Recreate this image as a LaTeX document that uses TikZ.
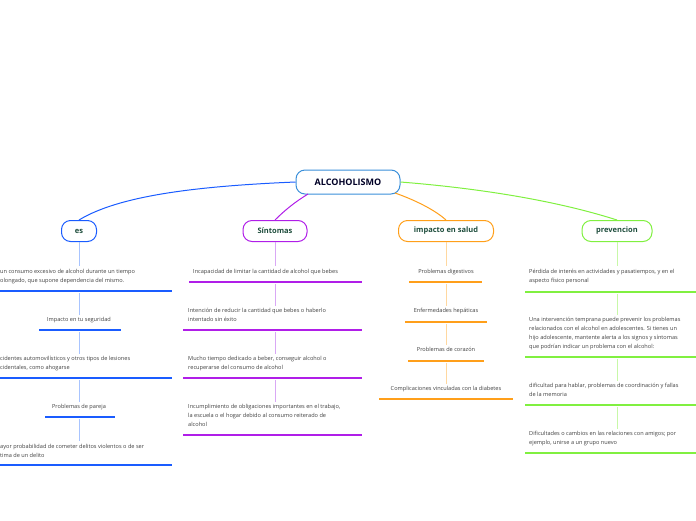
\documentclass[tikz,border=0pt]{standalone}
\usepackage{fontspec}
\setmainfont{Open Sans}
\begin{document}
\begin{tikzpicture}[x=1pt,y=-1pt,
 hdr/.style={draw,rounded corners=9pt,line width=1pt,minimum height=21pt,font=\fontsize{7.5}{9}\selectfont\bfseries,text=hd,inner xsep=8pt},
 lf/.style={font=\fontsize{5.6}{9}\selectfont,text=black!75,inner sep=0pt,align=left,anchor=north west},
 lc/.style={font=\fontsize{5.6}{9}\selectfont,text=black!75,inner sep=0pt,align=center,anchor=north},
 ul/.style={line width=1.2pt},
 vc/.style={line width=1pt}]
\definecolor{hd}{HTML}{1E4D3C}
\definecolor{cb}{HTML}{1A5CFF}\definecolor{cbl}{HTML}{A8C4FF}
\definecolor{cp}{HTML}{B01EE8}\definecolor{cpl}{HTML}{D9A8F5}
\definecolor{co}{HTML}{FF9F1A}\definecolor{col}{HTML}{FFD8A0}
\definecolor{cg}{HTML}{80F040}\definecolor{cgl}{HTML}{C8F8A8}
\definecolor{cr}{HTML}{3A8FD9}
\useasboundingbox (0,0) rectangle (696,520);
\clip (0,0) rectangle (696,520);
\node[hdr,draw=cr,minimum width=104pt,minimum height=24pt,font=\fontsize{9}{10}\selectfont\bfseries,text=black!85!blue] (root) at (348,182) {ALCOHOLISMO};
\node[hdr,draw=cb,minimum width=35pt] (es) at (79,231) {es};
\node[hdr,draw=cp,minimum width=64pt] (si) at (275,231) {Síntomas};
\node[hdr,draw=co,minimum width=95pt] (im) at (446,231) {impacto en salud};
\node[hdr,draw=cg,minimum width=70pt] (pr) at (617,231) {prevencion};
\draw[cb,line width=1pt] (root.west) .. controls (200,186) and (120,195) .. (es.north);
\draw[cp,line width=1pt] (308,194) .. controls (295,202) and (285,210) .. (si.north);
\draw[co,line width=1pt] (395,193) .. controls (415,200) and (435,210) .. (im.north);
\draw[cg,line width=1pt] (root.east) .. controls (500,190) and (570,205) .. (pr.north);
% es column
\node[lf] (e1) at (0,269) {un consumo excesivo de alcohol durante un tiempo\\olongado, que supone dependencia del mismo.};
\node[lc] (e2) at (79,317) {Impacto en tu seguridad};
\node[lf] (e3) at (0,356) {cidentes automovilísticos y otros tipos de lesiones\\cidentales, como ahogarse};
\node[lc] (e4) at (79,404) {Problemas de pareja};
\node[lf] (e5) at (0,444) {ayor probabilidad de cometer delitos violentos o de ser\\tima de un delito};
\draw[cb,ul] (0,291)--(172,291) (39,330)--(121,330) (0,378)--(172,378) (45,417)--(115,417) (0,465)--(172,465);
\draw[cbl,vc] (es.south)--(79,266) (79,293)--(79,315) (79,332)--(79,354) (79,380)--(79,402) (79,419)--(79,441);
% sintomas
\node[lf] (s1) at (193,269) {Incapacidad de limitar la cantidad de alcohol que bebes};
\node[lf] (s2) at (188,308) {Intención de reducir la cantidad que bebes o haberlo\\intentado sin éxito};
\node[lf] (s3) at (188,356) {Mucho tiempo dedicado a beber, conseguir alcohol o\\recuperarse del consumo de alcohol};
\node[lf] (s4) at (188,404) {Incumplimiento de obligaciones importantes en el trabajo,\\la escuela o el hogar debido al consumo reiterado de\\alcohol};
\draw[cp,ul] (189,282)--(362,282) (183,330)--(362,330) (183,378)--(362,378) (183,435)--(362,435);
\draw[cpl,vc] (si.south)--(275,266) (275,284)--(275,306) (275,332)--(275,354) (275,380)--(275,402);
% impacto
\node[lc] (i1) at (446,269) {Problemas digestivos};
\node[lc] (i2) at (446,308) {Enfermedades hepáticas};
\node[lc] (i3) at (446,347) {Problemas de corazón};
\node[lc] (i4) at (446,386) {Complicaciones vinculadas con la diabetes};
\draw[co,ul] (409,282)--(482,282) (405,322)--(487,322) (408,361)--(484,361) (379,399)--(513,399);
\draw[col,vc] (im.south)--(446,266) (446,284)--(446,306) (446,324)--(446,345) (446,363)--(446,384);
% prevencion
\node[lf] (p1) at (529,269) {Pérdida de interés en actividades y pasatiempos, y en el\\aspecto físico personal};
\node[lf] (p2) at (529,317) {Una intervención temprana puede prevenir los problemas\\relacionados con el alcohol en adolescentes. Si tienes un\\hijo adolescente, mantente alerta a los signos y síntomas\\que podrían indicar un problema con el alcohol:};
\node[lf] (p3) at (529,383) {dificultad para hablar, problemas de coordinación y fallas\\de la memoria};
\node[lf] (p4) at (529,431) {Dificultades o cambios en las relaciones con amigos; por\\ejemplo, unirse a un grupo nuevo};
\draw[cg,ul] (525,292)--(696,292) (525,357)--(696,357) (525,405)--(696,405) (525,453)--(696,453);
\draw[cgl,vc] (pr.south)--(617,266) (617,294)--(617,315) (617,359)--(617,381) (617,407)--(617,429);
\end{tikzpicture}
\end{document}
